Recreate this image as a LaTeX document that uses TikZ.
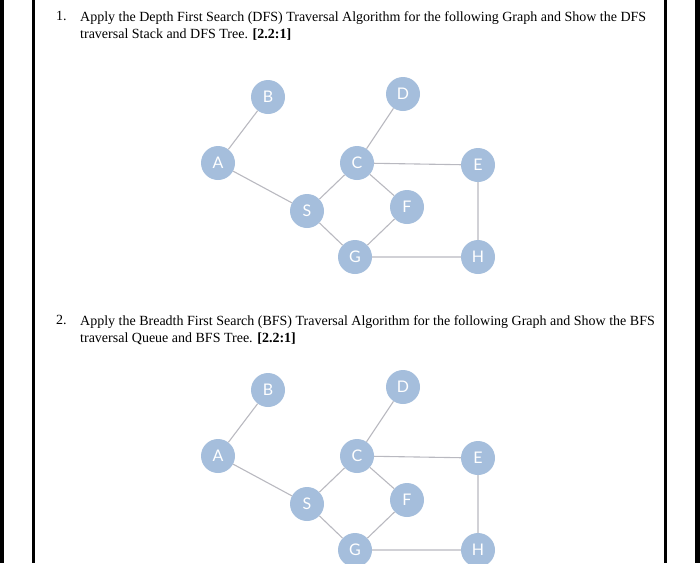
\documentclass[tikz,border=0pt]{standalone}
\usepackage{fontspec}
\setmainfont{Liberation Serif}
\newfontfamily\nodefont{Lato}
\begin{document}
\begin{tikzpicture}[x=1pt,y=-1pt,
  vtx/.style={circle,fill=nodeblue,minimum size=34pt,inner sep=0pt,text=white,font=\nodefont\fontsize{16}{16}\selectfont},
  edge/.style={draw=edgegray,line width=1.1pt},
  qtext/.style={anchor=north west,align=left,font=\fontsize{14}{17}\selectfont,inner sep=0pt}]
\definecolor{nodeblue}{RGB}{165,190,220}
\definecolor{edgegray}{RGB}{185,185,192}
\useasboundingbox (0,0) rectangle (700,563);
\fill[black] (0,0) rectangle (4,563);
\fill[black] (695,0) rectangle (700,563);
\draw[line width=2.5pt] (33.5,0) -- (33.5,563);
\draw[line width=2.5pt] (665.5,0) -- (665.5,563);
\node[qtext] (n1) at (56,11) {1.};
\node[qtext] (q1) at (80,11) {Apply the Depth First Search (DFS) Traversal Algorithm for the following Graph and Show the DFS\\traversal Stack and DFS Tree. \textbf{[2.2:1]}};
\node[qtext] (n2) at (56,315) {2.};
\node[qtext] (q2) at (80,315) {Apply the Breadth First Search (BFS) Traversal Algorithm for the following Graph and Show the BFS\\traversal Queue and BFS Tree. \textbf{[2.2:1]}};
\foreach \p/\dy in {a/0,b/293}{
\node[vtx] (B\p) at (268,97+\dy) {B};
\node[vtx] (D\p) at (403,94+\dy) {D};
\node[vtx] (A\p) at (218,163+\dy) {A};
\node[vtx] (C\p) at (357,163+\dy) {C};
\node[vtx] (E\p) at (478,165+\dy) {E};
\node[vtx] (S\p) at (307,211+\dy) {S};
\node[vtx] (F\p) at (407,207+\dy) {F};
\node[vtx] (G\p) at (355,257+\dy) {G};
\node[vtx] (H\p) at (478,257+\dy) {H};
\path[edge] (A\p)--(B\p) (A\p)--(S\p) (S\p)--(C\p) (C\p)--(D\p) (C\p)--(E\p) (C\p)--(F\p) (S\p)--(G\p) (G\p)--(F\p) (G\p)--(H\p) (E\p)--(H\p);
}
\end{tikzpicture}
\end{document}
